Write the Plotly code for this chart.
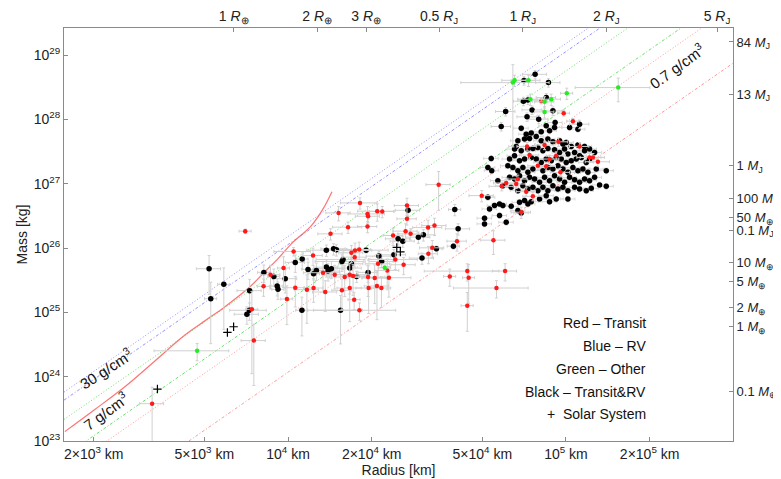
import numpy as np
import plotly.graph_objects as go

# rows: log10 radius [km], log10 mass [kg], relative radius error, relative mass error
transit_pts = [
    (3.846, 26.262, 0.05, 0.08), (4.020, 25.946, 0.15, 0.15), (4.090, 25.884, 0.08, 0.3),
    (3.984, 25.688, 0.05, 0.5), (3.912, 25.404, 0.05, 0.3), (4.026, 25.383, 0.08, 0.5),
    (4.068, 25.352, 0.1, 0.7), (4.092, 25.378, 0.08, 0.4), (4.134, 25.316, 0.1, 0.5),
    (4.194, 25.342, 0.08, 0.5), (3.996, 25.207, 0.05, 0.6), (3.870, 25.047, 0.05, 0.9),
    (4.153, 26.220, 0.1, 0.2), (4.182, 26.546, 0.1, 0.25), (3.937, 25.585, 0.08, 0.4),
    (4.126, 25.616, 0.15, 0.5), (4.168, 25.585, 0.1, 0.4), (4.204, 25.548, 0.12, 0.5),
    (4.542, 26.985, 0.1, 0.6), (4.259, 26.701, 0.15, 0.2), (4.428, 26.660, 0.1, 0.3),
    (4.321, 26.572, 0.15, 0.3), (4.339, 26.567, 0.1, 0.2), (4.286, 26.530, 0.15, 0.3),
    (4.288, 26.494, 0.1, 0.2), (4.428, 26.453, 0.08, 0.2), (4.216, 26.324, 0.12, 0.2),
    (4.286, 26.334, 0.08, 0.2), (4.423, 26.262, 0.1, 0.3), (4.378, 26.194, 0.08, 0.3),
    (4.441, 26.220, 0.1, 0.2), (4.504, 26.318, 0.12, 0.3), (4.527, 26.349, 0.1, 0.3),
    (4.608, 26.107, 0.08, 0.3), (4.519, 26.003, 0.1, 0.3), (4.505, 25.910, 0.08, 0.3),
    (4.241, 25.962, 0.15, 0.3), (4.256, 25.977, 0.1, 0.3), (4.228, 25.926, 0.1, 0.3),
    (4.240, 25.858, 0.1, 0.3), (4.386, 25.822, 0.2, 0.3), (4.357, 25.652, 0.1, 0.5),
    (4.416, 25.740, 0.1, 0.3), (4.324, 25.755, 0.1, 0.4), (4.288, 25.548, 0.15, 0.5),
    (4.312, 25.533, 0.1, 0.6), (4.363, 25.538, 0.2, 0.5), (4.222, 25.585, 0.15, 0.5),
    (4.234, 25.564, 0.1, 0.5), (4.222, 25.378, 0.1, 0.7), (4.290, 25.378, 0.1, 0.6),
    (4.320, 25.409, 0.1, 0.7), (4.336, 25.378, 0.08, 0.5), (4.238, 25.197, 0.05, 0.3),
    (4.257, 25.032, 0.35, 0.3), (4.582, 25.559, 0.05, 0.3), (4.645, 25.641, 0.3, 0.3),
    (4.650, 25.538, 0.05, 0.6), (4.750, 25.378, 0.3, 0.3), (4.645, 25.104, 0.05, 0.6),
    (4.739, 26.122, 0.1, 0.4), (4.781, 25.642, 0.1, 0.3), (3.511, 23.580, 0.1, 0.8),
    (3.877, 24.561, 0.1, 0.8),
    (4.911, 28.287, 0.05, 0.1), (4.992, 28.096, 0.05, 0.1), (5.025, 27.972, 0.05, 0.1),
    (4.973, 27.651, 0.08, 0.15), (4.923, 27.600, 0.08, 0.15), (4.860, 27.579, 0.08, 0.15),
    (4.869, 27.445, 0.08, 0.15), (4.941, 27.383, 0.08, 0.15), (4.965, 27.434, 0.08, 0.15),
    (5.049, 27.579, 0.08, 0.15), (5.085, 27.408, 0.1, 0.15), (5.097, 27.408, 0.1, 0.15),
    (5.115, 27.341, 0.1, 0.15), (4.899, 27.279, 0.08, 0.15), (4.929, 27.269, 0.08, 0.15),
    (4.980, 27.176, 0.08, 0.15), (4.827, 27.072, 0.08, 0.15), (4.785, 27.011, 0.1, 0.15),
    (4.769, 26.959, 0.1, 0.15), (4.821, 26.995, 0.08, 0.15), (4.857, 26.876, 0.08, 0.15),
    (4.881, 26.804, 0.08, 0.15), (4.839, 26.556, 0.08, 0.2), (4.697, 26.814, 0.1, 0.2),
]

other_pts = [
    (3.673, 24.402, 0.3, 0.3), (4.348, 25.693, 0.05, 0.1),
    (4.809, 28.571, 0.35, 0.9), (4.815, 28.607, 0.1, 0.2), (4.865, 28.607, 0.1, 0.2),
    (4.872, 28.313, 0.1, 0.2), (4.923, 28.272, 0.08, 0.2), (4.947, 28.313, 0.08, 0.2),
    (4.923, 28.116, 0.08, 0.2), (5.003, 28.406, 0.05, 0.2), (5.188, 28.494, 0.3, 0.4),
]

both_pts = [
    (3.716, 25.678, 0.1, 0.6), (3.769, 25.435, 0.05, 0.8), (3.722, 25.212, 0.05, 0.8),
    (3.862, 25.337, 0.1, 0.5), (3.913, 25.621, 0.05, 0.3), (3.949, 25.559, 0.05, 0.3),
    (3.961, 25.409, 0.05, 0.3), (3.964, 25.357, 0.05, 0.3), (3.990, 25.523, 0.1, 0.4),
    (4.026, 25.776, 0.08, 0.3), (4.051, 25.828, 0.05, 0.3), (4.072, 25.667, 0.05, 0.3),
    (4.092, 25.600, 0.05, 0.2), (4.102, 25.652, 0.05, 0.3), (4.138, 25.967, 0.15, 0.2),
    (4.164, 25.988, 0.1, 0.2), (4.174, 25.972, 0.1, 0.2), (4.198, 25.822, 0.2, 0.3),
    (4.194, 25.791, 0.2, 0.3), (4.138, 25.703, 0.1, 0.3), (4.144, 25.641, 0.1, 0.3),
    (4.156, 25.678, 0.1, 0.3), (3.861, 25.032, 0.15, 0.3), (3.852, 24.970, 0.1, 0.3),
    (4.050, 25.032, 0.05, 0.6), (4.189, 25.032, 0.2, 0.7),
    (4.432, 26.587, 0.1, 0.2), (4.600, 26.598, 0.05, 0.2), (4.612, 26.298, 0.1, 0.2),
    (4.396, 26.143, 0.1, 0.2), (4.413, 26.107, 0.1, 0.2), (4.469, 26.169, 0.1, 0.2),
    (4.487, 26.205, 0.1, 0.2), (4.595, 26.029, 0.05, 0.1), (4.534, 25.988, 0.05, 0.1),
    (4.482, 25.843, 0.1, 0.2), (4.281, 25.967, 0.2, 0.1), (4.327, 25.874, 0.1, 0.2),
    (4.337, 25.791, 0.1, 0.2), (4.381, 25.895, 0.1, 0.2), (4.222, 25.688, 0.1, 0.2),
    (4.228, 25.755, 0.1, 0.2), (4.247, 25.559, 0.08, 0.2), (4.288, 25.621, 0.08, 0.3),
    (4.889, 28.700, 0.1, 0.15), (4.849, 28.602, 0.1, 0.15), (4.937, 28.571, 0.1, 0.15),
    (4.847, 28.282, 0.08, 0.15), (4.863, 28.302, 0.08, 0.15), (4.929, 28.339, 0.08, 0.15),
    (4.878, 28.147, 0.08, 0.15), (4.953, 28.132, 0.08, 0.15), (4.783, 28.122, 0.08, 0.15),
    (4.860, 28.039, 0.08, 0.15), (4.902, 28.003, 0.08, 0.15), (4.767, 27.889, 0.08, 0.15),
    (5.049, 27.925, 0.08, 0.15),
]

# hot Jupiter cluster (transit + RV), log10 radius [km], log10 mass [kg]
cluster_logr = [
    4.839, 4.857, 4.875, 4.911, 4.929, 4.941, 4.959, 4.961, 5.013, 5.043,
    4.827, 4.851, 4.869, 4.893, 4.911, 4.935, 4.953, 4.977, 4.989, 5.001, 5.019, 5.043, 5.067, 4.821,
    4.815, 4.839, 4.863, 4.881, 4.899, 4.917, 4.935, 4.959, 4.977, 4.995, 5.007, 5.031, 5.049, 5.067, 5.085, 5.103,
    4.731, 4.797, 4.815, 4.833, 4.851, 4.875, 4.893, 4.911, 4.929, 4.947, 4.965, 4.983, 5.001, 5.019, 5.037, 5.055, 5.073, 5.085, 4.719, 4.733,
    4.791, 4.809, 4.827, 4.845, 4.863, 4.881, 4.917, 4.935, 4.953, 4.971, 4.989, 5.007, 5.025, 5.043, 5.061, 5.079, 5.109, 5.145,
    4.797, 4.815, 4.833, 4.851, 4.869, 4.887, 4.905, 4.923, 4.941, 4.959, 4.977, 4.995, 5.013, 5.031, 5.049, 5.067, 5.085, 5.103, 4.755, 4.773, 5.121, 5.145,
    4.803, 4.827, 4.845, 4.863, 4.881, 4.899, 4.917, 4.935, 4.953, 4.971, 4.989, 5.007, 5.031, 5.049, 5.073, 5.091,
    4.761, 4.773, 4.803, 4.833, 4.851, 4.863, 4.875, 4.905, 4.929, 4.941, 4.965, 5.007,
    4.827, 4.839, 4.761, 4.785, 4.719, 4.743, 4.725, 4.707, 4.707,
]
cluster_logm = [
    27.863, 27.770, 27.786, 27.806, 27.899, 27.822, 27.874, 27.951, 27.874, 27.848,
    27.667, 27.693, 27.703, 27.734, 27.667, 27.693, 27.651, 27.667, 27.615, 27.641, 27.579, 27.600, 27.579, 27.579,
    27.538, 27.512, 27.538, 27.548, 27.564, 27.512, 27.548, 27.527, 27.486, 27.538, 27.460, 27.486, 27.434, 27.512, 27.538, 27.486,
    27.393, 27.383, 27.434, 27.357, 27.383, 27.408, 27.383, 27.331, 27.383, 27.357, 27.408, 27.383, 27.331, 27.357, 27.383, 27.408, 27.331, 27.383, 27.253, 27.202,
    27.279, 27.253, 27.202, 27.253, 27.176, 27.228, 27.202, 27.253, 27.228, 27.279, 27.228, 27.176, 27.253, 27.202, 27.228, 27.176, 27.228, 27.202,
    27.098, 27.072, 27.124, 27.047, 27.098, 27.072, 27.021, 27.098, 27.047, 27.124, 27.072, 27.021, 27.098, 27.062, 27.021, 27.072, 27.047, 27.098, 27.047, 26.969, 26.980, 26.959,
    26.943, 26.892, 26.969, 26.918, 26.943, 26.892, 26.943, 26.892, 26.969, 26.918, 26.943, 26.892, 26.943, 26.918, 26.892, 26.928,
    26.685, 26.659, 26.649, 26.711, 26.737, 26.685, 26.721, 26.762, 26.814, 26.721, 26.762, 26.762,
    26.582, 26.545, 26.504, 26.401, 26.788, 26.659, 26.607, 26.463, 26.375,
]
cluster_rel_err = (0.06, 0.1)  # typical uncertainty for the cluster

# Mars, Venus, Earth, Uranus, Neptune
solar_radius = [3389.5, 6051.8, 6371.0, 25362.0, 24622.0]
solar_mass = [6.42e23, 4.87e24, 5.97e24, 8.68e25, 1.02e26]

DOT = "1px,2px"
DASHDOT = "3px,2px,1px,2px"

# constant density lines [g/cm^3]
density_lines = [
    (36.0, "rgba(110,110,255,0.75)", DOT),
    (27.0, "rgba(110,110,255,0.75)", DASHDOT),
    (13.5, "rgba(60,210,60,0.75)", DOT),
    (3.6, "rgba(60,210,60,0.75)", DASHDOT),
    (2.15, "rgba(255,110,110,0.7)", DOT),
    (0.28, "rgba(255,110,110,0.7)", DASHDOT),
]

# rocky composition mass-radius curve, log10 R [km], log10 M [kg]
rocky_logr = [3.197, 3.305, 3.413, 3.520, 3.628, 3.705, 3.772, 3.862, 3.913, 3.965, 4.012, 4.084, 4.125, 4.158]
rocky_logm = [23.146, 23.490, 23.843, 24.240, 24.643, 24.880, 25.084, 25.394, 25.616, 25.840, 26.065, 26.349, 26.600, 26.876]

R_EARTH = 6371.0
R_JUP = 69911.0
M_EARTH = 5.972e24
M_JUP = 1.898e27

x_range = [3.194, 5.601]
y_range = [23.0, 29.42]
font = "Liberation Sans, Arial, sans-serif"


def point_trace(rows, color, size, name):
    lr, lm, er, em = (np.array(c) for c in zip(*rows))
    r, m = 10 ** lr, 10 ** lm
    return go.Scatter(
        x=r, y=m, mode="markers", name=name,
        marker=dict(color=color, size=size),
        error_x=dict(type="data", array=r * er, arrayminus=r * np.minimum(er, 0.95),
                     color="#d0d0d0", thickness=1, width=1.5),
        error_y=dict(type="data", array=m * em, arrayminus=m * np.minimum(em, 0.95),
                     color="#d0d0d0", thickness=1, width=1.5),
    )


fig = go.Figure()

# density lines
lr_line = np.array(x_range)
for rho, col, dash in density_lines:
    lm_line = np.log10(4.0 / 3.0 * np.pi * 1e12 * rho) + 3 * lr_line
    fig.add_trace(go.Scatter(x=10 ** lr_line, y=10 ** lm_line, mode="lines",
                             line=dict(color=col, width=1, dash=dash), hoverinfo="skip"))

fig.add_trace(go.Scatter(x=10 ** np.array(rocky_logr), y=10 ** np.array(rocky_logm), mode="lines",
                         line=dict(color="rgba(255,100,100,0.9)", width=1.2, shape="spline"), hoverinfo="skip"))

# cluster
cr, cm = 10 ** np.array(cluster_logr), 10 ** np.array(cluster_logm)
fig.add_trace(go.Scatter(
    x=cr, y=cm, mode="markers", marker=dict(color="black", size=5.5),
    error_x=dict(type="data", array=cr * cluster_rel_err[0], color="#d8d8d8", thickness=1, width=1.5),
    error_y=dict(type="data", array=cm * cluster_rel_err[1], color="#d8d8d8", thickness=1, width=1.5),
))
fig.add_trace(point_trace(both_pts, "black", 5.5, "Transit&RV"))
fig.add_trace(point_trace(transit_pts, "#ff1a1a", 4.5, "Transit"))
fig.add_trace(point_trace(other_pts, "#22ee22", 4.5, "Other"))
fig.add_trace(go.Scatter(x=solar_radius, y=solar_mass, mode="markers",
                         marker=dict(symbol="cross-thin", size=6, line=dict(color="black", width=1.2))))

# invisible trace to make the secondary axes render
fig.add_trace(go.Scatter(x=[1e4], y=[1e25], xaxis="x2", yaxis="y2", mode="markers",
                         marker=dict(opacity=0), hoverinfo="skip"))

axis_style = dict(showgrid=False, zeroline=False, showline=True, linecolor="#8a8a8a", linewidth=1,
                  ticks="inside", ticklen=4, tickcolor="#8a8a8a", automargin=False,
                  tickfont=dict(size=14, color="#222"))

x_ticks = [2e3, 5e3, 1e4, 2e4, 5e4, 1e5, 2e5]
x_text = ["2×10<sup>3</sup> km", "5×10<sup>3</sup> km", "10<sup>4</sup> km", "2×10<sup>4</sup> km",
          "5×10<sup>4</sup> km", "10<sup>5</sup> km", "2×10<sup>5</sup> km"]
y_ticks = [10.0 ** k for k in range(23, 30)]
y_text = [f"10<sup>{k}</sup>" for k in range(23, 30)]

top_ticks = [R_EARTH, 2 * R_EARTH, 3 * R_EARTH, 0.5 * R_JUP, R_JUP, 2 * R_JUP, 5 * R_JUP]
top_text = ["1 <i>R</i><sub>⊕</sub>", "2 <i>R</i><sub>⊕</sub>", "3 <i>R</i><sub>⊕</sub>",
            "0.5 <i>R</i><sub>J</sub>", "1 <i>R</i><sub>J</sub>", "2 <i>R</i><sub>J</sub>", "5 <i>R</i><sub>J</sub>"]
right_ticks = [84 * M_JUP, 13 * M_JUP, M_JUP, 100 * M_EARTH, 50 * M_EARTH, 0.1 * M_JUP,
               10 * M_EARTH, 5 * M_EARTH, 2 * M_EARTH, M_EARTH, 0.1 * M_EARTH]
right_text = ["84 <i>M</i><sub>J</sub>", "13 <i>M</i><sub>J</sub>", "1 <i>M</i><sub>J</sub>",
              "100 <i>M</i><sub>⊕</sub>", "50 <i>M</i><sub>⊕</sub>", "0.1 <i>M</i><sub>J</sub>",
              "10 <i>M</i><sub>⊕</sub>", "5 <i>M</i><sub>⊕</sub>", "2 <i>M</i><sub>⊕</sub>",
              "1 <i>M</i><sub>⊕</sub>", "0.1 <i>M</i><sub>⊕</sub>"]

right_style = dict(axis_style, tickfont=dict(size=13, color="#222"))

fig.update_layout(
    width=781, height=479,
    margin=dict(l=56, r=56, t=20, b=46, autoexpand=False),
    paper_bgcolor="white", plot_bgcolor="white",
    showlegend=False,
    font=dict(family=font, size=13, color="#222"),
    xaxis=dict(type="log", range=x_range, tickvals=x_ticks, ticktext=x_text,
               title=dict(text="Radius [km]", standoff=4, font=dict(size=14)), **axis_style),
    yaxis=dict(type="log", range=y_range, tickvals=y_ticks, ticktext=y_text,
               title=dict(text="Mass [kg]", standoff=2, font=dict(size=14)), **axis_style),
    xaxis2=dict(type="log", range=x_range, overlaying="x", side="top", anchor="y",
                tickvals=top_ticks, ticktext=top_text, **axis_style),
    yaxis2=dict(type="log", range=y_range, overlaying="y", side="right", anchor="x",
                tickvals=right_ticks, ticktext=right_text, **right_style),
)

# density labels
labels = [
    ("30 g/cm<sup>3</sup>", 3.342, 24.13, -33),
    ("7 g/cm<sup>3</sup>", 3.344, 23.47, -36),
    ("0.7 g/cm<sup>3</sup>", 5.399, 28.83, -36),
]
for txt, lx, ly, ang in labels:
    fig.add_annotation(x=lx, y=ly, xref="x", yref="y", text=txt, showarrow=False,
                       textangle=ang, font=dict(size=15, color="#111"))

legend_lines = ["Red – Transit", "Blue – RV", "Green – Other", "Black – Transit&RV", "+  Solar System"]
for i, txt in enumerate(legend_lines):
    fig.add_annotation(x=0.873, y=0.262 - i * 0.0555, xref="paper", yref="paper", text=txt,
                       showarrow=False, font=dict(size=14, color="#111"))

fig.write_html("out.html")
